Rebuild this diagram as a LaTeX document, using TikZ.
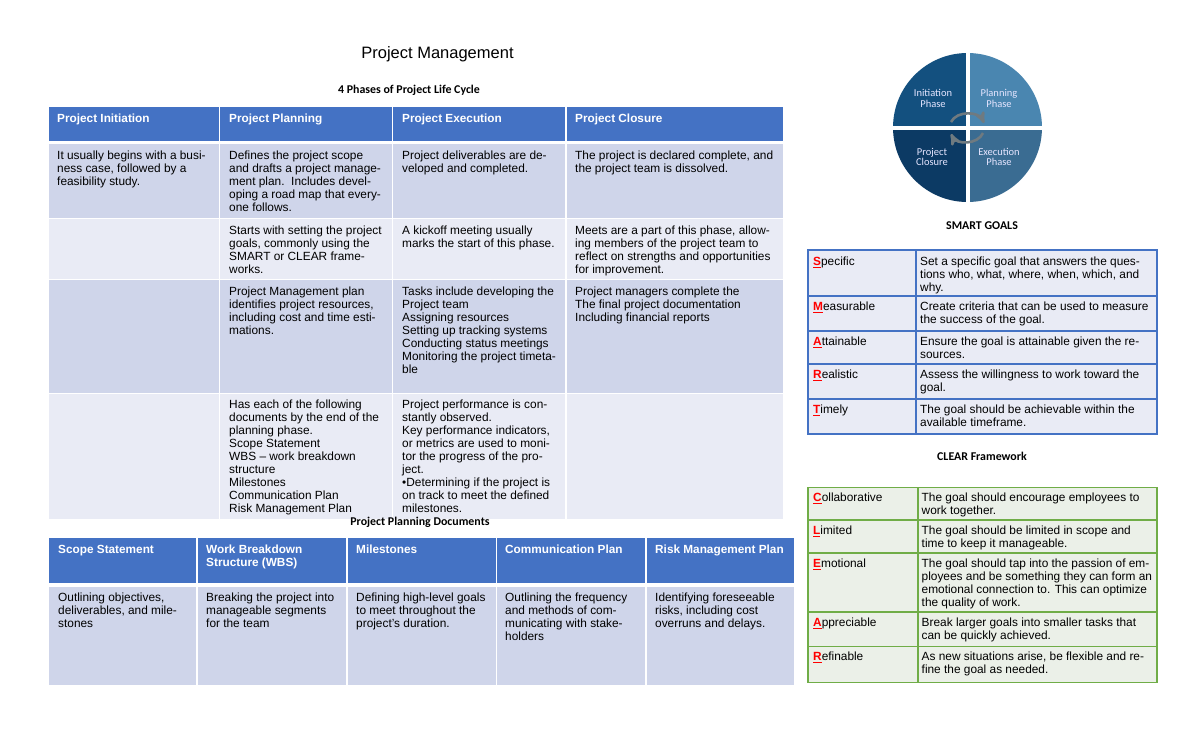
\documentclass[tikz,border=0pt]{standalone}
\usepackage{fontspec}
\setmainfont{Liberation Sans}
\newfontfamily\calibri{Carlito}
\usetikzlibrary{arrows, positioning}
\definecolor{headblue}{HTML}{4472C4}
\definecolor{darkrow}{HTML}{CFD5EA}
\definecolor{lightrow}{HTML}{E9EBF5}
\definecolor{framegreen}{HTML}{70AD47}
\definecolor{greenrow}{HTML}{EBF0E8}
\definecolor{initblue}{HTML}{13507F}
\definecolor{planblue}{HTML}{4A86B0}
\definecolor{execblue}{HTML}{3A6C92}
\definecolor{closeblue}{HTML}{0C3A64}
\definecolor{turngray}{HTML}{6F7A80}
\newcommand{\redkey}[1]{{\color{red}\underline{\textbf{#1}}}}

\begin{document}
\begin{tikzpicture}[
  x=1pt, y=-1pt,
  body/.style={anchor=north west, inner sep=0pt, yshift=-1.7pt, align=left, font=\fontsize{11.87}{13}\selectfont},
  head/.style={body, text=white, font=\fontsize{11.8}{13}\selectfont\bfseries},
  caption/.style={inner sep=0pt, yshift=-1pt, font=\calibri\fontsize{11.9}{13}\selectfont\bfseries},
  phase/.style={inner sep=0pt, align=center, text=white!90!blue, font=\calibri\fontsize{10.5}{10.5}\selectfont},
  turn/.style={->, >=stealth', line width=2.6pt, turngray}]

  \useasboundingbox (0,0) rectangle (1200,729);
  \fill[white] (0,0) rectangle (1200,729);

  \node[inner sep=0pt, font=\fontsize{16.5}{18}\selectfont] (title) at (437.5,54) {Project Management};
  \node[caption] (lifecycle) at (409,89) {4 Phases of Project Life Cycle};

  % phases table
  \foreach \xa/\xb in {49/219, 220/392, 393/565.3, 566.7/783} {
    \fill[headblue] (\xa,107) rectangle (\xb,141);
    \fill[darkrow] (\xa,144) rectangle (\xb,218);
    \fill[lightrow] (\xa,219) rectangle (\xb,279);
    \fill[darkrow] (\xa,280) rectangle (\xb,392.7);
    \fill[lightrow] (\xa,394) rectangle (\xb,519);
  }
  \node[head] (h1) at (57,112) {Project Initiation};
  \node[head] (h2) at (229,112) {Project Planning};
  \node[head] (h3) at (402,112) {Project Execution};
  \node[head] (h4) at (575,112) {Project Closure};

  \node[body] (a1) at (57,149) {It usually begins with a busi-\\ness case, followed by a\\feasibility study.};
  \node[body] (b1) at (229,149) {Defines the project scope\\and drafts a project manage-\\ment plan.\ \ Includes devel-\\oping a road map that every-\\one follows.};
  \node[body] (c1) at (402,149) {Project deliverables are de-\\veloped and completed.};
  \node[body] (d1) at (575,149) {The project is declared complete, and\\the project team is dissolved.};

  \node[body] (b2) at (229,224) {Starts with setting the project\\goals, commonly using the\\SMART or CLEAR frame-\\works.};
  \node[body] (c2) at (402,224) {A kickoff meeting usually\\marks the start of this phase.};
  \node[body] (d2) at (575,224) {Meets are a part of this phase, allow-\\ing members of the project team to\\reflect on strengths and opportunities\\for improvement.};

  \node[body] (b3) at (229,285) {Project Management plan\\identifies project resources,\\including cost and time esti-\\mations.};
  \node[body] (c3) at (402,285) {Tasks include developing the\\Project team\\Assigning resources\\Setting up tracking systems\\Conducting status meetings\\Monitoring the project timeta-\\ble};
  \node[body] (d3) at (575,285) {Project managers complete the\\The final project documentation\\Including financial reports};

  \node[body] (b4) at (229,398) {Has each of the following\\documents by the end of the\\planning phase.\\Scope Statement\\WBS -- work breakdown\\structure\\Milestones\\Communication Plan\\Risk Management Plan};
  \node[body] (c4) at (402,398) {Project performance is con-\\stantly observed.\\Key performance indicators,\\or metrics are used to moni-\\tor the progress of the pro-\\ject.\\•Determining if the project is\\on track to meet the defined\\milestones.};

  \node[caption] (documents) at (420,521) {Project Planning Documents};

  % documents table
  \foreach \xa/\xb in {49/196, 198/346, 348/495.7, 497/645, 646.7/794} {
    \fill[headblue] (\xa,538) rectangle (\xb,582.7);
    \fill[darkrow] (\xa,586.5) rectangle (\xb,685);
  }
  \node[head] (s1) at (58,543) {Scope Statement};
  \node[head] (s2) at (206,543) {Work Breakdown\\Structure (WBS)};
  \node[head] (s3) at (356,543) {Milestones};
  \node[head] (s4) at (505,543) {Communication Plan};
  \node[head] (s5) at (655,543) {Risk Management Plan};
  \node[body] (t1) at (58,591) {Outlining objectives,\\deliverables, and mile-\\stones};
  \node[body] (t2) at (206,591) {Breaking the project into\\manageable segments\\for the team};
  \node[body] (t3) at (356,591) {Defining high-level goals\\to meet throughout the\\project's duration.};
  \node[body] (t4) at (505,591) {Outlining the frequency\\and methods of com-\\municating with stake-\\holders};
  \node[body] (t5) at (655,591) {Identifying foreseeable\\risks, including cost\\overruns and delays.};

  % phase wheel
  \begin{scope}
    \clip (967.5,127.5) circle (74.5pt);
    \fill[initblue] (890,50) rectangle (965.5,125.5);
    \fill[planblue] (969.5,50) rectangle (1045,125.5);
    \fill[execblue] (969.5,129.5) rectangle (1045,205);
    \fill[closeblue] (890,129.5) rectangle (965.5,205);
  \end{scope}
  \node[phase] (init) at (933,98.5) {Initiation\\Phase};
  \node[phase] (plan) at (999,98.5) {Planning\\Phase};
  \node[phase] (clos) at (932,157) {Project\\Closure};
  \node[phase] (exec) at (999,157) {Execution\\Phase};
  \coordinate (t1a) at (951,122);
  \coordinate (t1b) at (984,123);
  \coordinate (t2a) at (983,133);
  \coordinate (t2b) at (951,134);
  \draw[turn] (t1a) to[bend left=65] (t1b);
  \draw[turn] (t2a) to[bend left=65] (t2b);

  \node[caption] (smart) at (982,225) {SMART GOALS};
  \node[caption] (clear) at (982,455) {CLEAR Framework};

  % smart table
  \fill[lightrow] (808,250) rectangle (1157,434);
  \draw[headblue, line width=1.3pt] (808,250) rectangle (1157,434);
  \draw[headblue, line width=1.3pt] (916,250) -- (916,434);
  \foreach \y in {296, 331, 364, 399}
    \draw[headblue, line width=1.3pt] (808,\y) -- (1157,\y);
  \node[body] (sa) at (813,255) {\redkey{S}pecific};
  \node[body] (sb) at (920,255) {Set a specific goal that answers the ques-\\tions who, what, where, when, which, and\\why.};
  \node[body] (ma) at (813,300) {\redkey{M}easurable};
  \node[body] (mb) at (920,300) {Create criteria that can be used to measure\\the success of the goal.};
  \node[body] (aa) at (813,335) {\redkey{A}ttainable};
  \node[body] (ab) at (920,335) {Ensure the goal is attainable given the re-\\sources.};
  \node[body] (ra) at (813,368) {\redkey{R}ealistic};
  \node[body] (rb) at (920,368) {Assess the willingness to work toward the\\goal.};
  \node[body] (ta) at (813,403) {\redkey{T}imely};
  \node[body] (tb) at (920,403) {The goal should be achievable within the\\available timeframe.};

  % clear table
  \fill[greenrow] (808,487.5) rectangle (1157,682.5);
  \draw[framegreen, line width=1.3pt] (808,487.5) rectangle (1157,682.5);
  \draw[framegreen, line width=1.3pt] (918,487.5) -- (918,682.5);
  \foreach \y in {520, 553, 612, 646.5}
    \draw[framegreen, line width=1.3pt] (808,\y) -- (1157,\y);
  \node[body] (ca) at (813,491) {\redkey{C}ollaborative};
  \node[body] (cb) at (921.5,491) {The goal should encourage employees to\\work together.};
  \node[body] (la) at (813,524) {\redkey{L}imited};
  \node[body] (lb) at (921.5,524) {The goal should be limited in scope and\\time to keep it manageable.};
  \node[body] (ea) at (813,557) {\redkey{E}motional};
  \node[body] (eb) at (921.5,557) {The goal should tap into the passion of em-\\ployees and be something they can form an\\emotional connection to. This can optimize\\the quality of work.};
  \node[body] (pa) at (813,616) {\redkey{A}ppreciable};
  \node[body] (pb) at (921.5,616) {Break larger goals into smaller tasks that\\can be quickly achieved.};
  \node[body] (fa) at (813,650) {\redkey{R}efinable};
  \node[body] (fb) at (921.5,650) {As new situations arise, be flexible and re-\\fine the goal as needed.};
\end{tikzpicture}
\end{document}
